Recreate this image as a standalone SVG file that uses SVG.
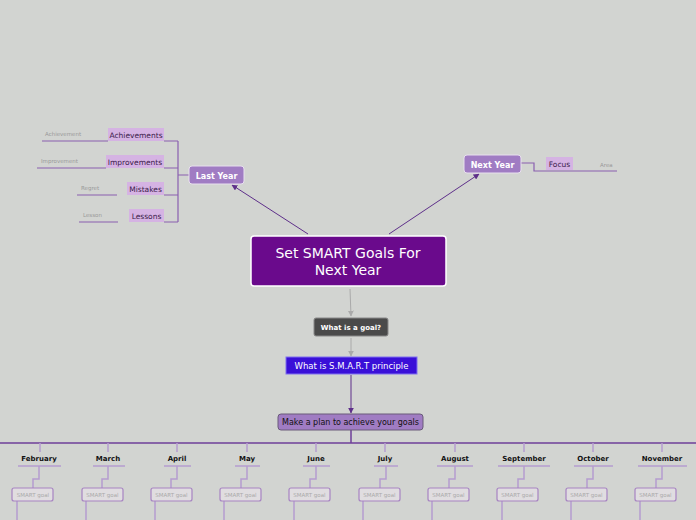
<svg xmlns="http://www.w3.org/2000/svg" width="696" height="520" viewBox="0 0 696 520">
<defs>
<marker id="ar" viewBox="0 0 10 10" refX="9" refY="5" markerWidth="6" markerHeight="6" orient="auto"><path d="M0,0L10,5L0,10z" fill="#5e2f8a"/></marker>
<marker id="ag" viewBox="0 0 10 10" refX="9" refY="5" markerWidth="6" markerHeight="6" orient="auto"><path d="M0,0L10,5L0,10z" fill="#aaa"/></marker>
</defs>
<style>
text{font-family:"DejaVu Sans",sans-serif}
.p{fill:none;stroke:#8a5fb0;stroke-width:1.2}
.pl{fill:none;stroke:#b59ccf;stroke-width:1.5}
.sub{fill:#d5b3e3}
.st{font-size:7.5px;fill:#3a1a4a;text-anchor:middle}
.gt{font-size:5.5px;fill:#999}
.mt{font-size:7px;font-weight:bold;fill:#111;text-anchor:middle}
.sg{fill:#e0dde0;stroke:#a784c2;stroke-width:1.2}
.sgt{font-size:5.5px;fill:#aaa;text-anchor:middle}
</style>
<rect width="696" height="520" fill="#d2d4d1"/>
<g id="connectors">
<line x1="308" y1="234" x2="232" y2="185" stroke="#5e2f8a" marker-end="url(#ar)"/>
<line x1="389" y1="234" x2="479" y2="174" stroke="#5e2f8a" marker-end="url(#ar)"/>
<line x1="350" y1="289" x2="351" y2="316" stroke="#aaa" marker-end="url(#ag)"/>
<line x1="351" y1="338" x2="351" y2="356" stroke="#aaa" marker-end="url(#ag)"/>
<line x1="351" y1="375" x2="351" y2="413" stroke="#5e2f8a" marker-end="url(#ar)"/>
<path class="p" d="M178,141V222M178,175H189M164,141H178M164,168H178M164,195H178M164,222H178"/>
<path class="p" d="M108,141H42M97,141V141M106,168H37M117,195H77M118,222H79"/>
<path class="p" d="M521,163H534V171H617"/>
<path d="M351,430V443M0,443H696" stroke="#6f3f99" stroke-width="1.5" fill="none"/>
</g>
<g id="root"><rect x="251" y="236" width="195" height="50" rx="3" fill="#6a0a8c" stroke="#fff" stroke-width="1.5"/>
<text x="348" y="258" font-size="14" fill="#fff" text-anchor="middle">Set SMART Goals For</text>
<text x="348" y="275" font-size="14" fill="#fff" text-anchor="middle">Next Year</text></g>
<g id="lastyear"><rect x="189" y="166" width="55" height="18" rx="3" fill="#a07cc3" stroke="#e8e0ee"/>
<text x="216.5" y="178.5" font-size="8" font-weight="bold" fill="#fff" text-anchor="middle">Last Year</text></g>
<g id="nextyear"><rect x="464" y="155" width="57" height="18" rx="3" fill="#a07cc3" stroke="#e8e0ee"/>
<text x="492.5" y="167.5" font-size="8" font-weight="bold" fill="#fff" text-anchor="middle">Next Year</text></g>
<g id="achievements"><rect class="sub" x="108" y="128" width="56" height="13"/><text class="st" x="136" y="137.5">Achievements</text><text class="gt" x="45" y="136">Achievement</text></g>
<g id="improvements"><rect class="sub" x="106" y="155" width="58" height="13"/><text class="st" x="135" y="164.5">Improvements</text><text class="gt" x="41" y="163">Improvement</text></g>
<g id="mistakes"><rect class="sub" x="127" y="182" width="37" height="13"/><text class="st" x="145.5" y="191.5">Mistakes</text><text class="gt" x="81" y="190">Regret</text></g>
<g id="lessons"><rect class="sub" x="129" y="209" width="35" height="13"/><text class="st" x="146.5" y="218.5">Lessons</text><text class="gt" x="83" y="217">Lesson</text></g>
<g id="focus"><rect class="sub" x="546" y="157" width="27" height="13"/><text class="st" x="559.5" y="166.5">Focus</text><text class="gt" x="600" y="166.5">Area</text></g>
<g id="goal"><rect x="314" y="318" width="74" height="18" rx="2" fill="#4a4a4a" stroke="#888"/>
<text x="351" y="330" font-size="7" font-weight="bold" fill="#fff" text-anchor="middle">What is a goal?</text></g>
<g id="principle"><rect x="286" y="357" width="131" height="17" fill="#3a10d8" stroke="#7f6ff0"/>
<text x="351.5" y="368.5" font-size="8.5" fill="#fff" text-anchor="middle">What is S.M.A.R.T principle</text></g>
<g id="plan"><rect x="278" y="414" width="145" height="16" rx="3" fill="#a07cc3" stroke="#6a5a7a"/>
<text x="350.5" y="425" font-size="8" fill="#111" text-anchor="middle">Make a plan to achieve your goals</text></g>
<g id="months">
<g id="feb"><path class="pl" d="M40,443Q40,447 40,452M18,466H61M39,466V479H33V488M17,501V520"/><text class="mt" x="39" y="461">February</text><rect class="sg" x="12" y="488" width="41" height="13" rx="2"/><text class="sgt" x="33" y="497">SMART goal</text></g>
<g id="mar"><path class="pl" d="M108,443V452M93,466H125M108,466V479H102V488M86,501V520"/><text class="mt" x="108" y="461">March</text><rect class="sg" x="82" y="488" width="41" height="13" rx="2"/><text class="sgt" x="102.5" y="497">SMART goal</text></g>
<g id="apr"><path class="pl" d="M177,443V452M164,466H191M177,466V479H171V488M155,501V520"/><text class="mt" x="177" y="461">April</text><rect class="sg" x="151" y="488" width="41" height="13" rx="2"/><text class="sgt" x="171.5" y="497">SMART goal</text></g>
<g id="may"><path class="pl" d="M247,443V452M235,466H260M247,466V479H241V488M224,501V520"/><text class="mt" x="247" y="461">May</text><rect class="sg" x="220" y="488" width="41" height="13" rx="2"/><text class="sgt" x="240.5" y="497">SMART goal</text></g>
<g id="jun"><path class="pl" d="M316,443V452M303,466H330M316,466V479H310V488M294,501V520"/><text class="mt" x="316" y="461">June</text><rect class="sg" x="289" y="488" width="41" height="13" rx="2"/><text class="sgt" x="309.5" y="497">SMART goal</text></g>
<g id="jul"><path class="pl" d="M385,443V452M374,466H398M386,466V479H380V488M363,501V520"/><text class="mt" x="385" y="461">July</text><rect class="sg" x="359" y="488" width="41" height="13" rx="2"/><text class="sgt" x="379.5" y="497">SMART goal</text></g>
<g id="aug"><path class="pl" d="M455,443V452M437,466H473M455,466V479H449V488M432,501V520"/><text class="mt" x="455" y="461">August</text><rect class="sg" x="428" y="488" width="41" height="13" rx="2"/><text class="sgt" x="448.5" y="497">SMART goal</text></g>
<g id="sep"><path class="pl" d="M524,443V452M498,466H550M524,466V479H518V488M502,501V520"/><text class="mt" x="524" y="461">September</text><rect class="sg" x="497" y="488" width="41" height="13" rx="2"/><text class="sgt" x="517.5" y="497">SMART goal</text></g>
<g id="oct"><path class="pl" d="M593,443V452M574,466H613M593,466V479H587V488M571,501V520"/><text class="mt" x="593" y="461">October</text><rect class="sg" x="566" y="488" width="41" height="13" rx="2"/><text class="sgt" x="586.5" y="497">SMART goal</text></g>
<g id="nov"><path class="pl" d="M662,443V452M638,466H687M662,466V479H656V488M640,501V520"/><text class="mt" x="662" y="461">November</text><rect class="sg" x="635" y="488" width="41" height="13" rx="2"/><text class="sgt" x="655.5" y="497">SMART goal</text></g>
</g>
</svg>
